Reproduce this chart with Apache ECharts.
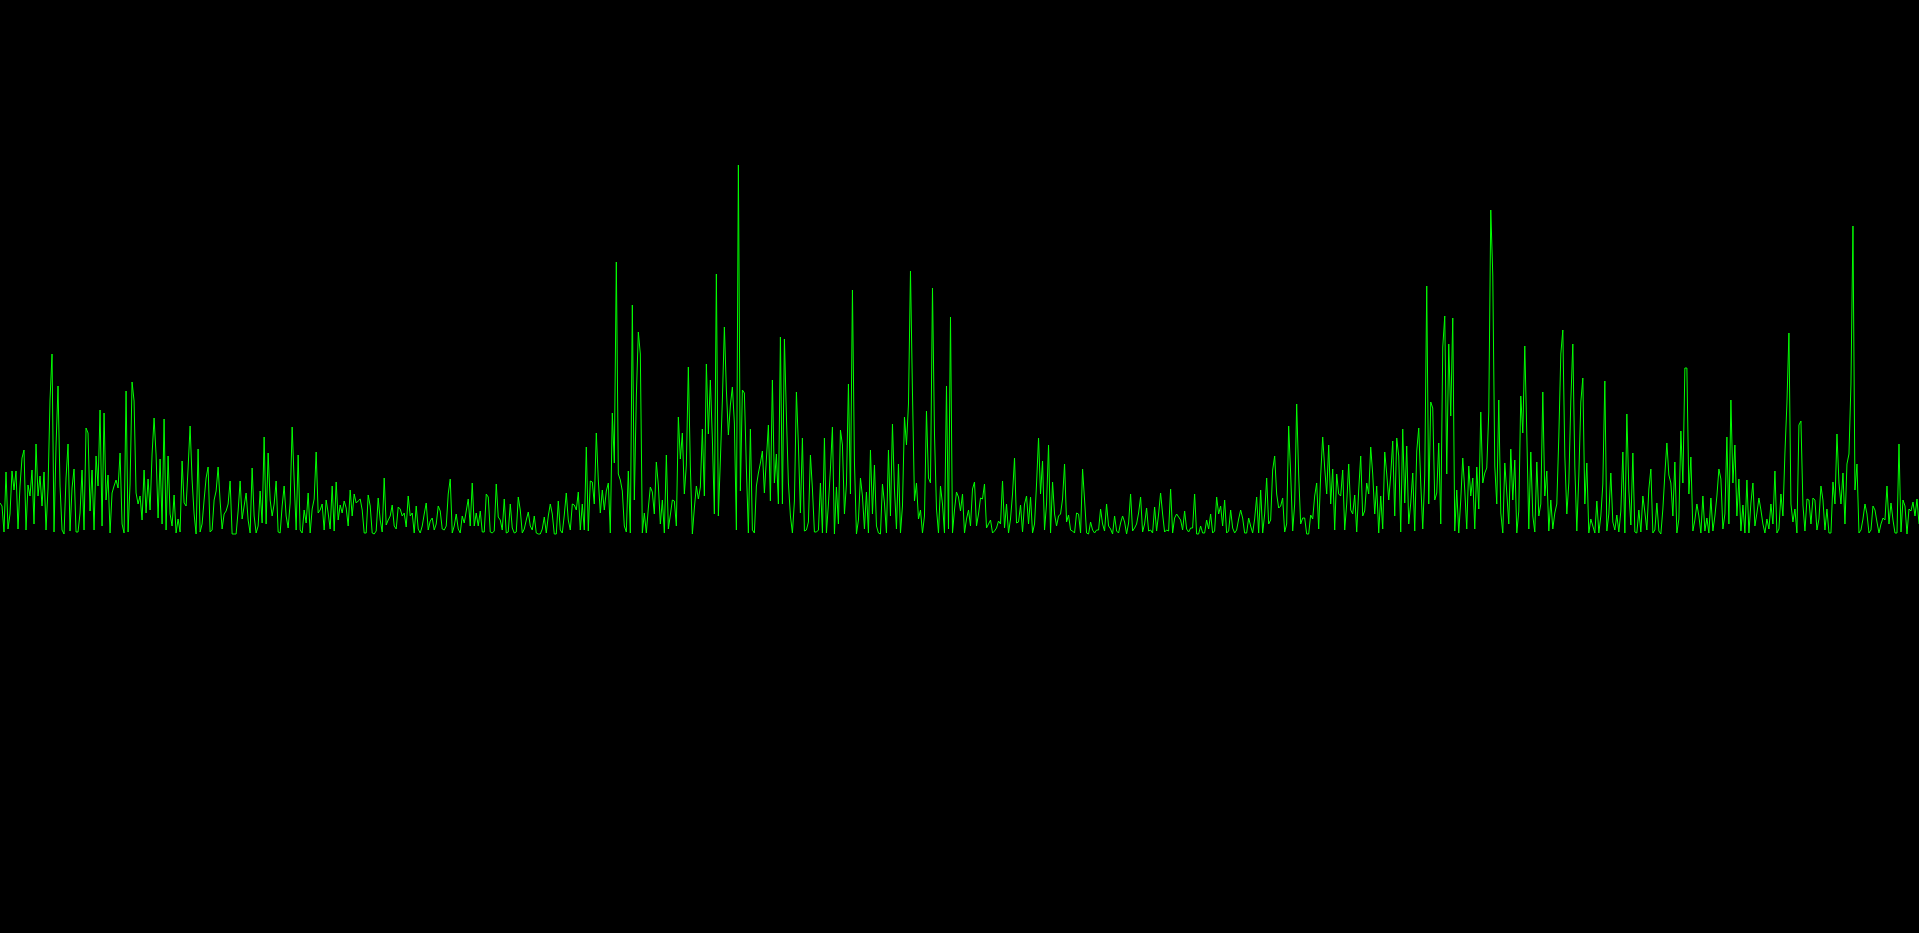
<!DOCTYPE html>
<html>
<head>
<meta charset="utf-8">
<script src="https://cdn.jsdelivr.net/npm/echarts@6/dist/echarts.min.js"></script>
<style>
html,body{margin:0;padding:0;background:#000;width:100%;height:100%;overflow:hidden}
#chart{width:1919px;height:933px}
</style>
</head>
<body>
<div id="chart"></div>
<script>
// Signal level per bin (height above the zero line), 12 segments of 80 bins
const seg01 = [31,28,2,62,5,20,63,44,63,5,48,76,84,4,49,38,64,10,90,38,58,28,62,4,46,134,180,2,88,148,48,4,0,56,90,3,46,65,2,2,21,64,4,106,101,23,64,4,78,48,124,8,121,34,59,1,41,48,54,46,81,10,1,143,2,50,152,133,41,30,38,14,64,21,55,24,80,116,79,16];
const seg02 = [75,10,115,4,78,20,8,39,1,15,2,73,31,28,66,108,54,20,0,85,2,10,34,56,67,2,4,34,43,67,33,5,20,23,30,53,0,0,0,23,53,15,28,41,14,1,66,18,1,8,43,11,97,10,81,34,18,30,53,2,1,28,48,18,6,31,107,54,4,79,4,1,24,11,41,1,25,35,82,21];
const seg03 = [24,30,4,34,21,5,48,3,52,14,29,21,33,26,8,44,18,40,31,33,35,24,1,1,39,28,1,0,3,36,14,2,56,9,14,18,29,8,5,27,25,18,21,7,38,18,21,1,28,5,1,8,20,31,4,13,16,4,10,28,23,5,4,8,40,55,1,8,20,5,1,18,11,23,35,8,51,8,21,8];
const seg04 = [23,2,2,40,37,2,1,3,50,17,14,4,35,1,2,30,6,1,2,37,24,1,5,14,22,8,4,18,1,0,0,5,17,1,18,30,20,0,0,33,4,1,19,41,14,4,30,29,24,42,4,30,4,87,3,53,52,30,101,54,21,44,24,43,51,1,121,71,272,60,54,43,8,2,63,1,229,34,138,202];
const seg05 = [180,1,21,1,26,47,42,20,72,49,10,34,1,79,5,19,34,33,8,117,75,101,40,69,167,67,0,26,48,35,47,105,38,170,100,154,95,20,260,18,74,134,207,144,99,129,147,111,4,369,43,144,141,66,1,105,4,1,48,61,71,83,41,75,109,33,154,51,80,30,197,30,195,118,51,18,1,33,142,89];
const seg06 = [21,96,3,4,12,79,45,2,2,4,51,1,96,1,30,65,107,0,47,10,104,89,20,50,150,40,244,72,0,14,56,38,5,42,1,84,20,69,8,1,0,50,31,1,84,18,110,45,5,70,1,28,117,89,130,263,141,33,51,15,24,1,18,123,56,51,246,100,25,1,48,30,1,148,5,217,1,24,42,37];
const seg07 = [23,40,1,15,24,8,45,52,8,20,36,35,50,6,10,14,1,3,6,13,10,53,6,30,1,15,40,76,11,12,29,2,30,38,10,37,1,10,50,96,40,73,4,30,89,1,52,20,8,18,20,35,70,12,19,4,3,1,21,20,1,65,34,1,0,12,4,1,4,4,25,10,3,30,8,5,0,18,3,1];
const seg08 = [11,18,12,0,11,40,3,6,10,21,37,2,10,26,3,4,1,27,3,20,41,20,2,4,3,45,1,16,20,17,14,4,23,5,2,6,6,40,0,0,8,1,1,14,5,20,1,3,37,20,28,8,34,1,3,24,6,1,4,15,24,16,1,1,16,8,1,15,37,1,44,1,20,56,10,14,64,78,40,26];
const seg09 = [28,36,2,10,108,60,3,30,130,59,10,16,16,0,0,19,15,38,51,5,59,97,66,40,89,30,65,4,60,40,38,64,4,30,70,24,20,39,2,44,78,18,23,51,40,87,60,20,48,1,38,5,82,60,34,59,93,18,96,78,2,105,31,88,10,31,61,3,83,106,51,5,58,248,30,132,126,34,41,91];
const seg10 = [10,187,218,60,190,118,216,3,44,1,34,76,44,5,68,38,56,5,67,25,122,51,61,66,122,324,259,68,30,134,21,1,71,41,10,85,34,74,1,23,138,101,188,101,5,82,18,2,72,18,30,142,38,63,3,34,5,21,30,97,180,204,78,20,51,133,190,68,3,58,132,156,30,71,1,15,8,1,33,1];
const seg11 = [18,50,153,3,20,61,12,4,19,2,23,82,1,120,44,9,81,2,1,24,2,38,22,4,45,65,1,4,31,3,0,25,60,91,59,51,18,72,1,15,103,51,166,166,40,77,3,14,30,18,1,38,3,16,1,36,3,18,38,65,55,5,20,97,10,134,51,89,18,55,3,29,1,54,1,31,51,8,21,36];
const seg12 = [24,10,1,15,5,30,10,63,1,5,40,18,81,131,201,30,12,25,1,109,113,29,3,35,34,10,36,34,4,15,48,34,4,25,1,1,52,30,100,51,30,61,10,70,80,150,308,44,70,1,4,15,30,20,1,4,28,24,12,1,10,16,14,48,10,31,14,1,1,90,2,34,28,0,25,23,32,18,35,10];

const levels = [].concat(seg01, seg02, seg03, seg04, seg05, seg06, seg07, seg08, seg09, seg10, seg11, seg12);
const bins = levels.map(function (_, i) { return i; });

// value range: zero line sits a little below the vertical middle
const yMin = -399;
const yMax = 534;

const chart = echarts.init(document.getElementById('chart'), null, { renderer: 'canvas' });
chart.setOption({
  backgroundColor: '#000000',
  animation: false,
  grid: { left: 0, right: 0, top: 0, bottom: 0, containLabel: false },
  xAxis: { type: 'category', data: bins, boundaryGap: false, show: false },
  yAxis: { type: 'value', min: yMin, max: yMax, show: false, splitLine: { show: false } },
  series: [{
    type: 'line',
    data: levels,
    symbol: 'none',
    showSymbol: false,
    silent: true,
    lineStyle: { color: '#00ff00', width: 1 },
    itemStyle: { color: '#00ff00' }
  }]
});
</script>
</body>
</html>
